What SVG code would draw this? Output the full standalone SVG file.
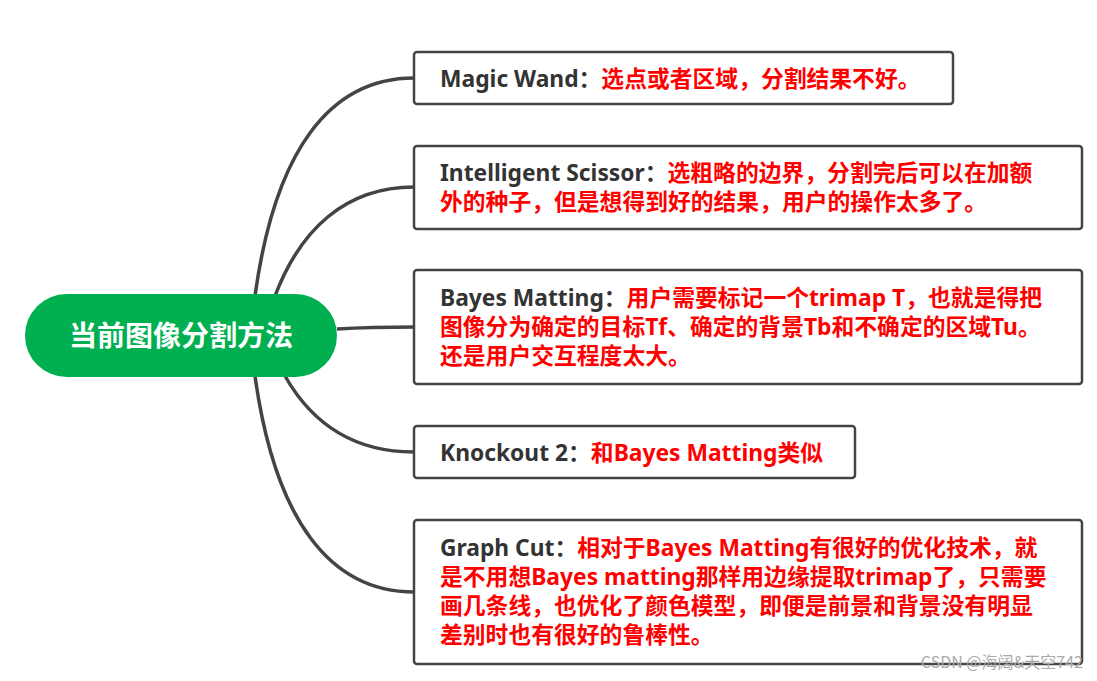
<svg xmlns="http://www.w3.org/2000/svg" width="1097" height="681" viewBox="0 0 1097 681">
<style>
.box{fill:#fff;stroke:#444;stroke-width:2.5}
.t{font-family:"Noto Sans","Noto Sans CJK SC",sans-serif;font-weight:bold;font-size:22.8px;fill:#333}
.r{fill:#f00}
.c{fill:none;stroke:#444;stroke-width:3.5}
</style>
<rect width="1097" height="681" fill="#fff"/>
<g id="connectors">
<path class="c" d="M255,296 C275,150 330,78 414,78"/>
<path class="c" d="M275,296 C300,230 345,187 414,187"/>
<path class="c" d="M337,329 C370,327 390,327 414,327"/>
<path class="c" d="M285,376 C310,420 350,452 414,452"/>
<path class="c" d="M255,376 C275,520 330,592 414,592"/>
</g>
<g id="root">
<rect x="25" y="294" width="312" height="83" rx="41.5" fill="#00b050"/>
<text x="181" y="346" text-anchor="middle" font-family="Noto Sans CJK SC,sans-serif" font-weight="bold" font-size="28" fill="#fff">当前图像分割方法</text>
</g>
<g id="n1">
<rect class="box" x="414" y="52" width="539" height="52" rx="3"/>
<text class="t" x="440" y="87">Magic Wand：<tspan class="r">选点或者区域，分割结果不好。</tspan></text>
</g>
<g id="n2">
<rect class="box" x="414" y="146" width="668" height="83" rx="3"/>
<text class="t" x="440" y="181">Intelligent Scissor：<tspan class="r">选粗略的边界，分割完后可以在加额</tspan></text>
<text class="t r" x="440" y="210">外的种子，但是想得到好的结果，用户的操作太多了。</text>
</g>
<g id="n3">
<rect class="box" x="414" y="270" width="668" height="114" rx="3"/>
<text class="t" x="440" y="306">Bayes Matting：<tspan class="r">用户需要标记一个trimap T，也就是得把</tspan></text>
<text class="t r" x="440" y="335">图像分为确定的目标Tf、确定的背景Tb和不确定的区域Tu。</text>
<text class="t r" x="440" y="364">还是用户交互程度太大。</text>
</g>
<g id="n4">
<rect class="box" x="414" y="426" width="441" height="52" rx="3"/>
<text class="t" x="440" y="461">Knockout 2：<tspan class="r">和Bayes Matting类似</tspan></text>
</g>
<g id="n5">
<rect class="box" x="414" y="520" width="668" height="144" rx="3"/>
<text class="t" x="440" y="556">Graph Cut：<tspan class="r">相对于Bayes Matting有很好的优化技术，就</tspan></text>
<text class="t r" x="440" y="585">是不用想Bayes matting那样用边缘提取trimap了，只需要</text>
<text class="t r" x="440" y="614">画几条线，也优化了颜色模型，即便是前景和背景没有明显</text>
<text class="t r" x="440" y="643">差别时也有很好的鲁棒性。</text>
</g>
<text x="1083" y="668" text-anchor="end" font-family="Noto Sans CJK SC,sans-serif" font-size="16" fill="#aaa">CSDN @海阔&amp;天空742</text>
</svg>
